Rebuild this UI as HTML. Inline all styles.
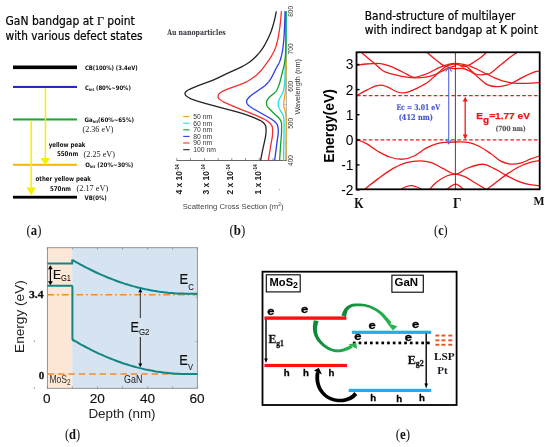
<!DOCTYPE html>
<html><head><meta charset="utf-8"><title>GaN bandgap figure</title>
<style>html,body{margin:0;padding:0;background:#fff;}body{width:550px;height:447px;overflow:hidden;}svg{display:block;}</style>
</head><body>
<svg width="550" height="447" viewBox="0 0 550 447">
<rect width="550" height="447" fill="#fff"/>
<text x="5.5" y="25.3" font-family='"DejaVu Sans Condensed", "DejaVu Sans", sans-serif' font-size="12.40" fill="#000" textLength="129.3" lengthAdjust="spacingAndGlyphs" stroke="#000" stroke-width="0.2">GaN bandgap at <tspan font-family='"Liberation Serif", serif'>Γ</tspan> point</text>
<text x="5.5" y="40.1" font-family='"DejaVu Sans Condensed", "DejaVu Sans", sans-serif' font-size="12.50" fill="#000" textLength="137.0" lengthAdjust="spacingAndGlyphs" stroke="#000" stroke-width="0.2">with various defect states</text>
<rect x="13" y="65.5" width="64" height="3.6" fill="#000"/>
<rect x="13" y="85.9" width="64" height="2.1" fill="#2a2ab8"/>
<rect x="13" y="118.4" width="64" height="2.1" fill="#1fa83a"/>
<rect x="13" y="163.8" width="64" height="2.0" fill="#f2b705"/>
<rect x="13" y="195.8" width="64" height="2.8" fill="#000"/>
<rect x="44.7" y="88" width="1.5" height="70.5" fill="#f5f000"/>
<polygon points="40.4,158 50.2,158 45.4,165.2" fill="#f5f000"/>
<rect x="30.4" y="120.5" width="1.5" height="67.5" fill="#f5f000"/>
<polygon points="26.5,187.5 35.9,187.5 31.2,195.5" fill="#f5f000"/>
<text x="84.9" y="70.0" font-family='"DejaVu Sans", Verdana, sans-serif' font-size="6.20" fill="#111" font-weight="bold" textLength="52.9" lengthAdjust="spacingAndGlyphs">CB(100%) (3.4eV)</text>
<text x="84.9" y="89.6" font-family='"DejaVu Sans", Verdana, sans-serif' font-size="6.20" fill="#111" font-weight="bold" textLength="46.0" lengthAdjust="spacingAndGlyphs">C<tspan font-size="4" dy="1">int</tspan><tspan dy="-1"> (80%~90%)</tspan></text>
<text x="84.5" y="121.7" font-family='"DejaVu Sans", Verdana, sans-serif' font-size="6.20" fill="#111" font-weight="bold" textLength="49.4" lengthAdjust="spacingAndGlyphs">Ga<tspan font-size="4" dy="1">int</tspan><tspan dy="-1">(60%~65%)</tspan></text>
<text x="82.6" y="131.5" font-family='"Liberation Serif", "Times New Roman", serif' font-size="9.00" fill="#222" textLength="30.9" lengthAdjust="spacingAndGlyphs">(2.36 eV)</text>
<text x="48.7" y="147.4" font-family='"DejaVu Sans", Verdana, sans-serif' font-size="6.60" fill="#111" font-weight="bold" textLength="36.8" lengthAdjust="spacingAndGlyphs">yellow peak</text>
<text x="56.9" y="156.3" font-family='"DejaVu Sans", Verdana, sans-serif' font-size="6.60" fill="#111" font-weight="bold" textLength="21.3" lengthAdjust="spacingAndGlyphs">550nm</text>
<text x="83.6" y="156.8" font-family='"Liberation Serif", "Times New Roman", serif' font-size="9.00" fill="#222" textLength="31.4" lengthAdjust="spacingAndGlyphs">(2.25 eV)</text>
<text x="85.2" y="167.3" font-family='"DejaVu Sans", Verdana, sans-serif' font-size="6.20" fill="#111" font-weight="bold" textLength="48.0" lengthAdjust="spacingAndGlyphs">O<tspan font-size="4" dy="1">int</tspan><tspan dy="-1"> (20%~30%)</tspan></text>
<text x="35.5" y="180.5" font-family='"DejaVu Sans", Verdana, sans-serif' font-size="6.60" fill="#111" font-weight="bold" textLength="55.5" lengthAdjust="spacingAndGlyphs">other yellow peak</text>
<text x="50.0" y="190.5" font-family='"DejaVu Sans", Verdana, sans-serif' font-size="6.60" fill="#111" font-weight="bold" textLength="21.0" lengthAdjust="spacingAndGlyphs">570nm</text>
<text x="76.4" y="190.6" font-family='"Liberation Serif", "Times New Roman", serif' font-size="9.00" fill="#222" textLength="31.8" lengthAdjust="spacingAndGlyphs">(2.17 eV)</text>
<text x="84.5" y="199.6" font-family='"DejaVu Sans", Verdana, sans-serif' font-size="6.20" fill="#111" font-weight="bold" textLength="22.3" lengthAdjust="spacingAndGlyphs">VB(0%)</text>
<text x="26.6" y="234.8" font-family='"Liberation Serif", "Times New Roman", serif' font-size="14.00" fill="#111" textLength="14.8" lengthAdjust="spacingAndGlyphs">(<tspan font-weight="bold">a</tspan>)</text>
<text x="167.2" y="34.5" font-family='"DejaVu Serif Condensed", "DejaVu Serif", serif' font-size="7.80" fill="#33343c" font-weight="bold" textLength="58.6" lengthAdjust="spacingAndGlyphs">Au nanoparticles</text>
<line x1="286.4" y1="11" x2="286.4" y2="160.5" stroke="#999" stroke-width="0.8"/>
<line x1="176.5" y1="160.5" x2="287" y2="160.5" stroke="#555" stroke-width="0.9"/>
<line x1="176.8" y1="160.5" x2="176.8" y2="158" stroke="#666" stroke-width="0.7"/>
<line x1="190.5" y1="160.5" x2="190.5" y2="158" stroke="#666" stroke-width="0.7"/>
<line x1="204.5" y1="160.5" x2="204.5" y2="158" stroke="#666" stroke-width="0.7"/>
<line x1="218.2" y1="160.5" x2="218.2" y2="158" stroke="#666" stroke-width="0.7"/>
<line x1="231.8" y1="160.5" x2="231.8" y2="158" stroke="#666" stroke-width="0.7"/>
<line x1="245.5" y1="160.5" x2="245.5" y2="158" stroke="#666" stroke-width="0.7"/>
<line x1="259.2" y1="160.5" x2="259.2" y2="158" stroke="#666" stroke-width="0.7"/>
<line x1="273.0" y1="160.5" x2="273.0" y2="158" stroke="#666" stroke-width="0.7"/>
<line x1="286.6" y1="142.7" x2="284.5" y2="142.7" stroke="#888" stroke-width="0.6"/>
<line x1="286.6" y1="104.4" x2="284.5" y2="104.4" stroke="#888" stroke-width="0.6"/>
<line x1="286.6" y1="67.0" x2="284.5" y2="67.0" stroke="#888" stroke-width="0.6"/>
<line x1="286.6" y1="29.7" x2="284.5" y2="29.7" stroke="#888" stroke-width="0.6"/>
<path d="M286.30,11.30 L286.30,11.80 L286.30,12.30 L286.30,12.80 L286.30,13.30 L286.30,13.80 L286.30,14.30 L286.30,14.80 L286.30,15.30 L286.30,15.80 L286.30,16.30 L286.30,16.80 L286.30,17.30 L286.30,17.80 L286.30,18.30 L286.30,18.80 L286.30,19.30 L286.29,19.80 L286.29,20.30 L286.29,20.80 L286.29,21.30 L286.29,21.80 L286.29,22.30 L286.29,22.80 L286.29,23.30 L286.29,23.80 L286.29,24.30 L286.29,24.80 L286.29,25.30 L286.28,25.80 L286.28,26.30 L286.28,26.80 L286.28,27.30 L286.28,27.80 L286.28,28.30 L286.28,28.80 L286.28,29.30 L286.27,29.80 L286.27,30.30 L286.27,30.80 L286.27,31.30 L286.27,31.80 L286.27,32.30 L286.27,32.80 L286.26,33.30 L286.26,33.80 L286.26,34.30 L286.26,34.80 L286.26,35.30 L286.26,35.80 L286.25,36.30 L286.25,36.80 L286.25,37.30 L286.25,37.80 L286.25,38.30 L286.24,38.80 L286.24,39.30 L286.24,39.80 L286.24,40.30 L286.24,40.80 L286.23,41.30 L286.23,41.80 L286.23,42.30 L286.23,42.80 L286.23,43.30 L286.22,43.80 L286.22,44.30 L286.22,44.80 L286.22,45.30 L286.21,45.80 L286.21,46.30 L286.21,46.80 L286.21,47.30 L286.20,47.80 L286.20,48.30 L286.20,48.80 L286.20,49.30 L286.19,49.80 L286.19,50.30 L286.19,50.80 L286.19,51.30 L286.18,51.80 L286.18,52.30 L286.18,52.80 L286.17,53.30 L286.17,53.80 L286.17,54.30 L286.17,54.80 L286.16,55.30 L286.16,55.80 L286.16,56.30 L286.15,56.80 L286.15,57.30 L286.15,57.80 L286.14,58.30 L286.14,58.80 L286.14,59.30 L286.14,59.80 L286.13,60.30 L286.13,60.80 L286.13,61.30 L286.12,61.80 L286.12,62.30 L286.12,62.80 L286.11,63.30 L286.11,63.80 L286.10,64.30 L286.10,64.80 L286.10,65.30 L286.09,65.80 L286.09,66.30 L286.08,66.80 L286.08,67.30 L286.07,67.80 L286.07,68.30 L286.06,68.80 L286.06,69.30 L286.05,69.80 L286.04,70.30 L286.04,70.80 L286.03,71.30 L286.02,71.80 L286.01,72.30 L286.01,72.80 L286.00,73.30 L285.99,73.80 L285.98,74.30 L285.97,74.80 L285.96,75.30 L285.95,75.80 L285.94,76.30 L285.93,76.80 L285.92,77.30 L285.90,77.80 L285.89,78.30 L285.88,78.80 L285.87,79.30 L285.85,79.80 L285.84,80.30 L285.83,80.80 L285.81,81.30 L285.80,81.80 L285.78,82.30 L285.76,82.80 L285.75,83.30 L285.73,83.80 L285.71,84.30 L285.70,84.80 L285.68,85.30 L285.66,85.80 L285.64,86.30 L285.62,86.80 L285.59,87.30 L285.57,87.80 L285.54,88.30 L285.51,88.80 L285.47,89.30 L285.43,89.80 L285.39,90.30 L285.34,90.80 L285.29,91.30 L285.24,91.80 L285.19,92.30 L285.13,92.80 L285.07,93.30 L285.01,93.80 L284.95,94.30 L284.89,94.80 L284.82,95.30 L284.75,95.80 L284.68,96.30 L284.61,96.80 L284.53,97.30 L284.45,97.80 L284.36,98.30 L284.28,98.80 L284.19,99.30 L284.11,99.80 L284.04,100.30 L283.97,100.80 L283.90,101.30 L283.84,101.80 L283.79,102.30 L283.75,102.80 L283.72,103.30 L283.70,103.80 L283.69,104.30 L283.69,104.80 L283.72,105.30 L283.76,105.80 L283.83,106.30 L283.92,106.80 L284.03,107.30 L284.15,107.80 L284.29,108.30 L284.43,108.80 L284.57,109.30 L284.71,109.80 L284.85,110.30 L284.99,110.80 L285.12,111.30 L285.25,111.80 L285.37,112.30 L285.48,112.80 L285.59,113.30 L285.68,113.80 L285.76,114.30 L285.82,114.80 L285.87,115.30 L285.92,115.80 L285.95,116.30 L285.98,116.80 L286.01,117.30 L286.03,117.80 L286.06,118.30 L286.07,118.80 L286.09,119.30 L286.11,119.80 L286.12,120.30 L286.14,120.80 L286.15,121.30 L286.16,121.80 L286.17,122.30 L286.18,122.80 L286.18,123.30 L286.19,123.80 L286.19,124.30 L286.19,124.80 L286.20,125.30 L286.20,125.80 L286.20,126.30 L286.20,126.80 L286.19,127.30 L286.19,127.80 L286.19,128.30 L286.19,128.80 L286.18,129.30 L286.18,129.80 L286.18,130.30 L286.17,130.80 L286.17,131.30 L286.16,131.80 L286.16,132.30 L286.15,132.80 L286.15,133.30 L286.14,133.80 L286.14,134.30 L286.13,134.80 L286.12,135.30 L286.12,135.80 L286.11,136.30 L286.11,136.80 L286.10,137.30 L286.09,137.80 L286.09,138.30 L286.08,138.80 L286.07,139.30 L286.07,139.80 L286.06,140.30 L286.05,140.80 L286.05,141.30 L286.04,141.80 L286.03,142.30 L286.03,142.80 L286.02,143.30 L286.01,143.80 L286.01,144.30 L286.00,144.80 L286.00,145.30 L285.99,145.80 L285.98,146.30 L285.98,146.80 L285.97,147.30 L285.97,147.80 L285.96,148.30 L285.96,148.80 L285.95,149.30 L285.94,149.80 L285.94,150.30 L285.93,150.80 L285.92,151.30 L285.92,151.80 L285.91,152.30 L285.90,152.80 L285.90,153.30 L285.89,153.80 L285.88,154.30 L285.88,154.80 L285.87,155.30 L285.86,155.80 L285.86,156.30 L285.85,156.80 L285.84,157.30 L285.84,157.80 L285.83,158.30 L285.82,158.80 L285.82,159.30 L285.81,159.80 L285.81,160.30 L285.80,160.50" fill="none" stroke="#f5a020" stroke-width="1.3" stroke-linejoin="round"/>
<path d="M286.20,11.30 L286.20,11.80 L286.20,12.30 L286.20,12.80 L286.20,13.30 L286.20,13.80 L286.20,14.30 L286.20,14.80 L286.20,15.30 L286.20,15.80 L286.20,16.30 L286.20,16.80 L286.20,17.30 L286.19,17.80 L286.19,18.30 L286.19,18.80 L286.19,19.30 L286.19,19.80 L286.19,20.30 L286.19,20.80 L286.19,21.30 L286.19,21.80 L286.18,22.30 L286.18,22.80 L286.18,23.30 L286.18,23.80 L286.18,24.30 L286.18,24.80 L286.17,25.30 L286.17,25.80 L286.17,26.30 L286.17,26.80 L286.17,27.30 L286.16,27.80 L286.16,28.30 L286.16,28.80 L286.16,29.30 L286.15,29.80 L286.15,30.30 L286.15,30.80 L286.15,31.30 L286.14,31.80 L286.14,32.30 L286.14,32.80 L286.14,33.30 L286.13,33.80 L286.13,34.30 L286.13,34.80 L286.12,35.30 L286.12,35.80 L286.12,36.30 L286.11,36.80 L286.11,37.30 L286.11,37.80 L286.10,38.30 L286.10,38.80 L286.10,39.30 L286.09,39.80 L286.09,40.30 L286.08,40.80 L286.08,41.30 L286.08,41.80 L286.07,42.30 L286.07,42.80 L286.06,43.30 L286.06,43.80 L286.06,44.30 L286.05,44.80 L286.05,45.30 L286.04,45.80 L286.04,46.30 L286.03,46.80 L286.03,47.30 L286.02,47.80 L286.02,48.30 L286.01,48.80 L286.00,49.30 L286.00,49.80 L285.99,50.30 L285.98,50.80 L285.97,51.30 L285.96,51.80 L285.94,52.30 L285.93,52.80 L285.91,53.30 L285.89,53.80 L285.87,54.30 L285.84,54.80 L285.82,55.30 L285.80,55.80 L285.77,56.30 L285.74,56.80 L285.72,57.30 L285.69,57.80 L285.66,58.30 L285.63,58.80 L285.60,59.30 L285.57,59.80 L285.54,60.30 L285.52,60.80 L285.49,61.30 L285.46,61.80 L285.43,62.30 L285.41,62.80 L285.38,63.30 L285.36,63.80 L285.34,64.30 L285.31,64.80 L285.29,65.30 L285.27,65.80 L285.25,66.30 L285.24,66.80 L285.22,67.30 L285.20,67.80 L285.19,68.30 L285.17,68.80 L285.16,69.30 L285.14,69.80 L285.13,70.30 L285.12,70.80 L285.10,71.30 L285.09,71.80 L285.07,72.30 L285.06,72.80 L285.05,73.30 L285.03,73.80 L285.02,74.30 L285.00,74.80 L284.99,75.30 L284.97,75.80 L284.95,76.30 L284.93,76.80 L284.91,77.30 L284.90,77.80 L284.87,78.30 L284.85,78.80 L284.83,79.30 L284.80,79.80 L284.78,80.30 L284.75,80.80 L284.72,81.30 L284.68,81.80 L284.65,82.30 L284.61,82.80 L284.56,83.30 L284.51,83.80 L284.46,84.30 L284.40,84.80 L284.34,85.30 L284.27,85.80 L284.19,86.30 L284.11,86.80 L284.03,87.30 L283.94,87.80 L283.85,88.30 L283.75,88.80 L283.65,89.30 L283.54,89.80 L283.43,90.30 L283.30,90.80 L283.17,91.30 L283.02,91.80 L282.85,92.30 L282.66,92.80 L282.46,93.30 L282.23,93.80 L281.99,94.30 L281.74,94.80 L281.47,95.30 L281.20,95.80 L280.93,96.30 L280.65,96.80 L280.39,97.30 L280.12,97.80 L279.87,98.30 L279.62,98.80 L279.38,99.30 L279.14,99.80 L278.92,100.30 L278.72,100.80 L278.55,101.30 L278.40,101.80 L278.29,102.30 L278.21,102.80 L278.17,103.30 L278.16,103.80 L278.19,104.30 L278.24,104.80 L278.31,105.30 L278.41,105.80 L278.52,106.30 L278.66,106.80 L278.83,107.30 L279.02,107.80 L279.24,108.30 L279.49,108.80 L279.75,109.30 L280.04,109.80 L280.34,110.30 L280.65,110.80 L280.96,111.30 L281.27,111.80 L281.57,112.30 L281.87,112.80 L282.15,113.30 L282.41,113.80 L282.66,114.30 L282.87,114.80 L283.06,115.30 L283.23,115.80 L283.38,116.30 L283.50,116.80 L283.61,117.30 L283.71,117.80 L283.78,118.30 L283.85,118.80 L283.90,119.30 L283.94,119.80 L283.98,120.30 L284.00,120.80 L284.02,121.30 L284.03,121.80 L284.04,122.30 L284.05,122.80 L284.06,123.30 L284.07,123.80 L284.08,124.30 L284.08,124.80 L284.09,125.30 L284.09,125.80 L284.09,126.30 L284.09,126.80 L284.10,127.30 L284.10,127.80 L284.10,128.30 L284.09,128.80 L284.09,129.30 L284.09,129.80 L284.09,130.30 L284.08,130.80 L284.07,131.30 L284.07,131.80 L284.06,132.30 L284.05,132.80 L284.05,133.30 L284.04,133.80 L284.03,134.30 L284.02,134.80 L284.01,135.30 L284.00,135.80 L283.99,136.30 L283.97,136.80 L283.96,137.30 L283.95,137.80 L283.94,138.30 L283.93,138.80 L283.92,139.30 L283.90,139.80 L283.89,140.30 L283.88,140.80 L283.87,141.30 L283.86,141.80 L283.85,142.30 L283.84,142.80 L283.83,143.30 L283.82,143.80 L283.81,144.30 L283.80,144.80 L283.80,145.30 L283.79,145.80 L283.78,146.30 L283.77,146.80 L283.77,147.30 L283.76,147.80 L283.75,148.30 L283.75,148.80 L283.74,149.30 L283.73,149.80 L283.72,150.30 L283.72,150.80 L283.71,151.30 L283.70,151.80 L283.70,152.30 L283.69,152.80 L283.69,153.30 L283.68,153.80 L283.67,154.30 L283.67,154.80 L283.66,155.30 L283.65,155.80 L283.65,156.30 L283.64,156.80 L283.64,157.30 L283.63,157.80 L283.62,158.30 L283.62,158.80 L283.61,159.30 L283.61,159.80 L283.60,160.30 L283.60,160.50" fill="none" stroke="#20e0e0" stroke-width="1.3" stroke-linejoin="round"/>
<path d="M285.90,11.30 L285.90,11.80 L285.90,12.30 L285.90,12.80 L285.90,13.30 L285.90,13.80 L285.90,14.30 L285.90,14.80 L285.90,15.30 L285.90,15.80 L285.90,16.30 L285.90,16.80 L285.90,17.30 L285.90,17.80 L285.89,18.30 L285.89,18.80 L285.89,19.30 L285.89,19.80 L285.89,20.30 L285.89,20.80 L285.89,21.30 L285.89,21.80 L285.89,22.30 L285.89,22.80 L285.88,23.30 L285.88,23.80 L285.88,24.30 L285.88,24.80 L285.88,25.30 L285.88,25.80 L285.87,26.30 L285.87,26.80 L285.87,27.30 L285.87,27.80 L285.87,28.30 L285.86,28.80 L285.86,29.30 L285.86,29.80 L285.86,30.30 L285.86,30.80 L285.85,31.30 L285.85,31.80 L285.85,32.30 L285.85,32.80 L285.84,33.30 L285.84,33.80 L285.84,34.30 L285.83,34.80 L285.83,35.30 L285.83,35.80 L285.82,36.30 L285.82,36.80 L285.82,37.30 L285.81,37.80 L285.81,38.30 L285.81,38.80 L285.80,39.30 L285.80,39.80 L285.80,40.30 L285.79,40.80 L285.79,41.30 L285.78,41.80 L285.78,42.30 L285.77,42.80 L285.77,43.30 L285.77,43.80 L285.76,44.30 L285.76,44.80 L285.75,45.30 L285.75,45.80 L285.74,46.30 L285.74,46.80 L285.73,47.30 L285.73,47.80 L285.72,48.30 L285.71,48.80 L285.71,49.30 L285.70,49.80 L285.69,50.30 L285.68,50.80 L285.66,51.30 L285.65,51.80 L285.62,52.30 L285.60,52.80 L285.57,53.30 L285.54,53.80 L285.50,54.30 L285.46,54.80 L285.42,55.30 L285.38,55.80 L285.33,56.30 L285.28,56.80 L285.23,57.30 L285.17,57.80 L285.11,58.30 L285.05,58.80 L284.99,59.30 L284.93,59.80 L284.86,60.30 L284.80,60.80 L284.73,61.30 L284.66,61.80 L284.59,62.30 L284.52,62.80 L284.44,63.30 L284.36,63.80 L284.28,64.30 L284.19,64.80 L284.09,65.30 L283.99,65.80 L283.88,66.30 L283.77,66.80 L283.65,67.30 L283.53,67.80 L283.40,68.30 L283.27,68.80 L283.14,69.30 L283.00,69.80 L282.87,70.30 L282.73,70.80 L282.59,71.30 L282.46,71.80 L282.32,72.30 L282.19,72.80 L282.07,73.30 L281.94,73.80 L281.82,74.30 L281.70,74.80 L281.58,75.30 L281.46,75.80 L281.35,76.30 L281.24,76.80 L281.12,77.30 L281.01,77.80 L280.89,78.30 L280.78,78.80 L280.66,79.30 L280.53,79.80 L280.41,80.30 L280.28,80.80 L280.14,81.30 L280.00,81.80 L279.86,82.30 L279.71,82.80 L279.55,83.30 L279.40,83.80 L279.23,84.30 L279.06,84.80 L278.89,85.30 L278.71,85.80 L278.52,86.30 L278.32,86.80 L278.12,87.30 L277.90,87.80 L277.68,88.30 L277.44,88.80 L277.18,89.30 L276.91,89.80 L276.62,90.30 L276.30,90.80 L275.95,91.30 L275.55,91.80 L275.11,92.30 L274.62,92.80 L274.08,93.30 L273.50,93.80 L272.89,94.30 L272.27,94.80 L271.65,95.30 L271.04,95.80 L270.45,96.30 L269.90,96.80 L269.38,97.30 L268.90,97.80 L268.45,98.30 L268.05,98.80 L267.68,99.30 L267.36,99.80 L267.08,100.30 L266.85,100.80 L266.68,101.30 L266.57,101.80 L266.50,102.30 L266.47,102.80 L266.48,103.30 L266.53,103.80 L266.61,104.30 L266.73,104.80 L266.88,105.30 L267.08,105.80 L267.33,106.30 L267.63,106.80 L267.99,107.30 L268.39,107.80 L268.83,108.30 L269.30,108.80 L269.78,109.30 L270.27,109.80 L270.76,110.30 L271.26,110.80 L271.76,111.30 L272.26,111.80 L272.77,112.30 L273.28,112.80 L273.81,113.30 L274.35,113.80 L274.90,114.30 L275.46,114.80 L276.03,115.30 L276.60,115.80 L277.16,116.30 L277.70,116.80 L278.22,117.30 L278.70,117.80 L279.14,118.30 L279.54,118.80 L279.91,119.30 L280.23,119.80 L280.52,120.30 L280.78,120.80 L281.00,121.30 L281.17,121.80 L281.31,122.30 L281.42,122.80 L281.49,123.30 L281.54,123.80 L281.57,124.30 L281.58,124.80 L281.59,125.30 L281.60,125.80 L281.60,126.30 L281.60,126.80 L281.60,127.30 L281.60,127.80 L281.60,128.30 L281.60,128.80 L281.60,129.30 L281.59,129.80 L281.59,130.30 L281.58,130.80 L281.57,131.30 L281.56,131.80 L281.54,132.30 L281.52,132.80 L281.50,133.30 L281.47,133.80 L281.45,134.30 L281.42,134.80 L281.38,135.30 L281.35,135.80 L281.31,136.30 L281.27,136.80 L281.23,137.30 L281.19,137.80 L281.15,138.30 L281.11,138.80 L281.07,139.30 L281.02,139.80 L280.98,140.30 L280.94,140.80 L280.89,141.30 L280.85,141.80 L280.81,142.30 L280.77,142.80 L280.73,143.30 L280.69,143.80 L280.65,144.30 L280.62,144.80 L280.58,145.30 L280.55,145.80 L280.52,146.30 L280.48,146.80 L280.45,147.30 L280.42,147.80 L280.38,148.30 L280.35,148.80 L280.32,149.30 L280.29,149.80 L280.25,150.30 L280.22,150.80 L280.19,151.30 L280.16,151.80 L280.13,152.30 L280.09,152.80 L280.06,153.30 L280.03,153.80 L280.00,154.30 L279.96,154.80 L279.93,155.30 L279.90,155.80 L279.87,156.30 L279.84,156.80 L279.80,157.30 L279.77,157.80 L279.74,158.30 L279.71,158.80 L279.68,159.30 L279.65,159.80 L279.63,160.30 L279.60,160.50" fill="none" stroke="#10a030" stroke-width="1.3" stroke-linejoin="round"/>
<path d="M285.00,11.30 L284.99,11.80 L284.99,12.30 L284.98,12.80 L284.98,13.30 L284.97,13.80 L284.96,14.30 L284.95,14.80 L284.94,15.30 L284.93,15.80 L284.92,16.30 L284.91,16.80 L284.89,17.30 L284.88,17.80 L284.87,18.30 L284.85,18.80 L284.84,19.30 L284.82,19.80 L284.80,20.30 L284.79,20.80 L284.77,21.30 L284.75,21.80 L284.73,22.30 L284.71,22.80 L284.69,23.30 L284.67,23.80 L284.65,24.30 L284.63,24.80 L284.61,25.30 L284.59,25.80 L284.57,26.30 L284.55,26.80 L284.53,27.30 L284.50,27.80 L284.48,28.30 L284.46,28.80 L284.44,29.30 L284.41,29.80 L284.39,30.30 L284.36,30.80 L284.34,31.30 L284.31,31.80 L284.29,32.30 L284.26,32.80 L284.23,33.30 L284.20,33.80 L284.17,34.30 L284.14,34.80 L284.11,35.30 L284.08,35.80 L284.05,36.30 L284.01,36.80 L283.98,37.30 L283.94,37.80 L283.90,38.30 L283.86,38.80 L283.82,39.30 L283.78,39.80 L283.74,40.30 L283.70,40.80 L283.65,41.30 L283.61,41.80 L283.56,42.30 L283.51,42.80 L283.47,43.30 L283.42,43.80 L283.36,44.30 L283.31,44.80 L283.26,45.30 L283.20,45.80 L283.15,46.30 L283.09,46.80 L283.03,47.30 L282.96,47.80 L282.90,48.30 L282.83,48.80 L282.75,49.30 L282.68,49.80 L282.60,50.30 L282.51,50.80 L282.43,51.30 L282.34,51.80 L282.24,52.30 L282.14,52.80 L282.04,53.30 L281.93,53.80 L281.82,54.30 L281.70,54.80 L281.58,55.30 L281.46,55.80 L281.33,56.30 L281.20,56.80 L281.07,57.30 L280.93,57.80 L280.79,58.30 L280.64,58.80 L280.49,59.30 L280.33,59.80 L280.17,60.30 L279.99,60.80 L279.81,61.30 L279.61,61.80 L279.40,62.30 L279.18,62.80 L278.93,63.30 L278.68,63.80 L278.41,64.30 L278.13,64.80 L277.85,65.30 L277.56,65.80 L277.28,66.30 L277.00,66.80 L276.72,67.30 L276.45,67.80 L276.18,68.30 L275.92,68.80 L275.67,69.30 L275.42,69.80 L275.17,70.30 L274.92,70.80 L274.68,71.30 L274.44,71.80 L274.19,72.30 L273.94,72.80 L273.70,73.30 L273.45,73.80 L273.20,74.30 L272.95,74.80 L272.69,75.30 L272.43,75.80 L272.17,76.30 L271.90,76.80 L271.62,77.30 L271.33,77.80 L271.03,78.30 L270.72,78.80 L270.40,79.30 L270.06,79.80 L269.71,80.30 L269.35,80.80 L268.98,81.30 L268.59,81.80 L268.18,82.30 L267.76,82.80 L267.32,83.30 L266.86,83.80 L266.38,84.30 L265.86,84.80 L265.32,85.30 L264.74,85.80 L264.13,86.30 L263.49,86.80 L262.82,87.30 L262.13,87.80 L261.41,88.30 L260.69,88.80 L259.96,89.30 L259.22,89.80 L258.49,90.30 L257.76,90.80 L257.02,91.30 L256.29,91.80 L255.56,92.30 L254.83,92.80 L254.11,93.30 L253.40,93.80 L252.71,94.30 L252.04,94.80 L251.40,95.30 L250.78,95.80 L250.18,96.30 L249.61,96.80 L249.07,97.30 L248.56,97.80 L248.09,98.30 L247.67,98.80 L247.31,99.30 L247.02,99.80 L246.80,100.30 L246.65,100.80 L246.58,101.30 L246.57,101.80 L246.63,102.30 L246.75,102.80 L246.94,103.30 L247.19,103.80 L247.53,104.30 L247.95,104.80 L248.44,105.30 L249.00,105.80 L249.63,106.30 L250.30,106.80 L251.02,107.30 L251.77,107.80 L252.56,108.30 L253.37,108.80 L254.21,109.30 L255.07,109.80 L255.94,110.30 L256.83,110.80 L257.72,111.30 L258.61,111.80 L259.50,112.30 L260.39,112.80 L261.28,113.30 L262.16,113.80 L263.04,114.30 L263.91,114.80 L264.79,115.30 L265.67,115.80 L266.55,116.30 L267.43,116.80 L268.30,117.30 L269.16,117.80 L270.00,118.30 L270.82,118.80 L271.60,119.30 L272.34,119.80 L273.04,120.30 L273.70,120.80 L274.32,121.30 L274.89,121.80 L275.42,122.30 L275.90,122.80 L276.33,123.30 L276.70,123.80 L277.01,124.30 L277.27,124.80 L277.48,125.30 L277.64,125.80 L277.78,126.30 L277.88,126.80 L277.97,127.30 L278.04,127.80 L278.10,128.30 L278.15,128.80 L278.19,129.30 L278.22,129.80 L278.24,130.30 L278.25,130.80 L278.25,131.30 L278.25,131.80 L278.23,132.30 L278.20,132.80 L278.17,133.30 L278.13,133.80 L278.08,134.30 L278.02,134.80 L277.97,135.30 L277.90,135.80 L277.83,136.30 L277.76,136.80 L277.69,137.30 L277.62,137.80 L277.54,138.30 L277.47,138.80 L277.39,139.30 L277.32,139.80 L277.24,140.30 L277.17,140.80 L277.10,141.30 L277.03,141.80 L276.97,142.30 L276.90,142.80 L276.84,143.30 L276.78,143.80 L276.71,144.30 L276.65,144.80 L276.59,145.30 L276.53,145.80 L276.46,146.30 L276.40,146.80 L276.34,147.30 L276.27,147.80 L276.21,148.30 L276.15,148.80 L276.08,149.30 L276.02,149.80 L275.95,150.30 L275.89,150.80 L275.82,151.30 L275.76,151.80 L275.69,152.30 L275.63,152.80 L275.56,153.30 L275.50,153.80 L275.43,154.30 L275.37,154.80 L275.30,155.30 L275.23,155.80 L275.17,156.30 L275.10,156.80 L275.03,157.30 L274.97,157.80 L274.90,158.30 L274.84,158.80 L274.78,159.30 L274.72,159.80 L274.66,160.30 L274.60,160.50" fill="none" stroke="#2a3cf0" stroke-width="1.3" stroke-linejoin="round"/>
<path d="M281.40,11.30 L281.37,11.80 L281.33,12.30 L281.29,12.80 L281.26,13.30 L281.22,13.80 L281.18,14.30 L281.14,14.80 L281.10,15.30 L281.06,15.80 L281.01,16.30 L280.97,16.80 L280.92,17.30 L280.88,17.80 L280.83,18.30 L280.78,18.80 L280.73,19.30 L280.68,19.80 L280.63,20.30 L280.58,20.80 L280.53,21.30 L280.47,21.80 L280.42,22.30 L280.36,22.80 L280.31,23.30 L280.25,23.80 L280.19,24.30 L280.13,24.80 L280.07,25.30 L280.01,25.80 L279.95,26.30 L279.88,26.80 L279.82,27.30 L279.75,27.80 L279.68,28.30 L279.61,28.80 L279.54,29.30 L279.47,29.80 L279.39,30.30 L279.32,30.80 L279.24,31.30 L279.16,31.80 L279.08,32.30 L279.00,32.80 L278.92,33.30 L278.83,33.80 L278.75,34.30 L278.66,34.80 L278.57,35.30 L278.48,35.80 L278.39,36.30 L278.29,36.80 L278.20,37.30 L278.10,37.80 L278.00,38.30 L277.90,38.80 L277.79,39.30 L277.69,39.80 L277.58,40.30 L277.46,40.80 L277.35,41.30 L277.23,41.80 L277.11,42.30 L276.98,42.80 L276.86,43.30 L276.72,43.80 L276.59,44.30 L276.45,44.80 L276.30,45.30 L276.15,45.80 L276.00,46.30 L275.83,46.80 L275.67,47.30 L275.49,47.80 L275.31,48.30 L275.12,48.80 L274.91,49.30 L274.70,49.80 L274.48,50.30 L274.25,50.80 L274.02,51.30 L273.77,51.80 L273.52,52.30 L273.26,52.80 L272.99,53.30 L272.72,53.80 L272.44,54.30 L272.16,54.80 L271.88,55.30 L271.59,55.80 L271.29,56.30 L270.99,56.80 L270.68,57.30 L270.37,57.80 L270.05,58.30 L269.72,58.80 L269.38,59.30 L269.03,59.80 L268.68,60.30 L268.32,60.80 L267.96,61.30 L267.59,61.80 L267.22,62.30 L266.85,62.80 L266.47,63.30 L266.10,63.80 L265.73,64.30 L265.36,64.80 L265.00,65.30 L264.63,65.80 L264.27,66.30 L263.91,66.80 L263.55,67.30 L263.18,67.80 L262.81,68.30 L262.43,68.80 L262.05,69.30 L261.65,69.80 L261.24,70.30 L260.82,70.80 L260.38,71.30 L259.93,71.80 L259.45,72.30 L258.96,72.80 L258.45,73.30 L257.93,73.80 L257.38,74.30 L256.82,74.80 L256.24,75.30 L255.63,75.80 L255.02,76.30 L254.38,76.80 L253.72,77.30 L253.04,77.80 L252.33,78.30 L251.60,78.80 L250.85,79.30 L250.06,79.80 L249.23,80.30 L248.36,80.80 L247.44,81.30 L246.47,81.80 L245.43,82.30 L244.33,82.80 L243.17,83.30 L241.93,83.80 L240.64,84.30 L239.31,84.80 L237.93,85.30 L236.52,85.80 L235.10,86.30 L233.67,86.80 L232.24,87.30 L230.84,87.80 L229.46,88.30 L228.13,88.80 L226.86,89.30 L225.67,89.80 L224.54,90.30 L223.51,90.80 L222.55,91.30 L221.69,91.80 L220.91,92.30 L220.22,92.80 L219.63,93.30 L219.14,93.80 L218.74,94.30 L218.45,94.80 L218.24,95.30 L218.13,95.80 L218.08,96.30 L218.11,96.80 L218.22,97.30 L218.41,97.80 L218.70,98.30 L219.10,98.80 L219.60,99.30 L220.21,99.80 L220.91,100.30 L221.71,100.80 L222.59,101.30 L223.54,101.80 L224.56,102.30 L225.62,102.80 L226.73,103.30 L227.86,103.80 L229.00,104.30 L230.16,104.80 L231.31,105.30 L232.47,105.80 L233.63,106.30 L234.80,106.80 L235.98,107.30 L237.17,107.80 L238.38,108.30 L239.61,108.80 L240.86,109.30 L242.13,109.80 L243.41,110.30 L244.70,110.80 L246.00,111.30 L247.29,111.80 L248.58,112.30 L249.85,112.80 L251.11,113.30 L252.36,113.80 L253.58,114.30 L254.79,114.80 L255.97,115.30 L257.13,115.80 L258.26,116.30 L259.36,116.80 L260.43,117.30 L261.47,117.80 L262.47,118.30 L263.45,118.80 L264.39,119.30 L265.29,119.80 L266.14,120.30 L266.94,120.80 L267.69,121.30 L268.37,121.80 L268.99,122.30 L269.55,122.80 L270.05,123.30 L270.51,123.80 L270.92,124.30 L271.28,124.80 L271.59,125.30 L271.86,125.80 L272.08,126.30 L272.25,126.80 L272.38,127.30 L272.47,127.80 L272.53,128.30 L272.56,128.80 L272.58,129.30 L272.59,129.80 L272.60,130.30 L272.60,130.80 L272.60,131.30 L272.59,131.80 L272.59,132.30 L272.58,132.80 L272.57,133.30 L272.55,133.80 L272.52,134.30 L272.49,134.80 L272.45,135.30 L272.40,135.80 L272.34,136.30 L272.27,136.80 L272.20,137.30 L272.13,137.80 L272.04,138.30 L271.96,138.80 L271.87,139.30 L271.78,139.80 L271.68,140.30 L271.58,140.80 L271.49,141.30 L271.39,141.80 L271.30,142.30 L271.20,142.80 L271.11,143.30 L271.02,143.80 L270.93,144.30 L270.84,144.80 L270.76,145.30 L270.68,145.80 L270.59,146.30 L270.51,146.80 L270.43,147.30 L270.35,147.80 L270.27,148.30 L270.19,148.80 L270.11,149.30 L270.03,149.80 L269.94,150.30 L269.86,150.80 L269.78,151.30 L269.70,151.80 L269.61,152.30 L269.53,152.80 L269.44,153.30 L269.36,153.80 L269.28,154.30 L269.19,154.80 L269.11,155.30 L269.02,155.80 L268.93,156.30 L268.85,156.80 L268.76,157.30 L268.68,157.80 L268.59,158.30 L268.51,158.80 L268.43,159.30 L268.35,159.80 L268.27,160.30 L268.20,160.50" fill="none" stroke="#f03030" stroke-width="1.3" stroke-linejoin="round"/>
<path d="M276.30,11.30 L276.21,11.80 L276.11,12.30 L276.02,12.80 L275.92,13.30 L275.82,13.80 L275.73,14.30 L275.62,14.80 L275.52,15.30 L275.42,15.80 L275.31,16.30 L275.20,16.80 L275.09,17.30 L274.98,17.80 L274.86,18.30 L274.75,18.80 L274.63,19.30 L274.51,19.80 L274.39,20.30 L274.27,20.80 L274.14,21.30 L274.02,21.80 L273.89,22.30 L273.76,22.80 L273.63,23.30 L273.50,23.80 L273.36,24.30 L273.22,24.80 L273.08,25.30 L272.94,25.80 L272.79,26.30 L272.64,26.80 L272.49,27.30 L272.34,27.80 L272.18,28.30 L272.02,28.80 L271.85,29.30 L271.68,29.80 L271.51,30.30 L271.33,30.80 L271.15,31.30 L270.97,31.80 L270.77,32.30 L270.58,32.80 L270.38,33.30 L270.17,33.80 L269.97,34.30 L269.75,34.80 L269.54,35.30 L269.32,35.80 L269.09,36.30 L268.87,36.80 L268.64,37.30 L268.40,37.80 L268.17,38.30 L267.93,38.80 L267.68,39.30 L267.44,39.80 L267.19,40.30 L266.94,40.80 L266.68,41.30 L266.42,41.80 L266.15,42.30 L265.88,42.80 L265.61,43.30 L265.33,43.80 L265.05,44.30 L264.76,44.80 L264.46,45.30 L264.16,45.80 L263.86,46.30 L263.55,46.80 L263.23,47.30 L262.90,47.80 L262.57,48.30 L262.23,48.80 L261.89,49.30 L261.54,49.80 L261.18,50.30 L260.81,50.80 L260.43,51.30 L260.04,51.80 L259.65,52.30 L259.24,52.80 L258.83,53.30 L258.40,53.80 L257.97,54.30 L257.53,54.80 L257.07,55.30 L256.61,55.80 L256.13,56.30 L255.65,56.80 L255.15,57.30 L254.64,57.80 L254.11,58.30 L253.57,58.80 L253.02,59.30 L252.45,59.80 L251.86,60.30 L251.25,60.80 L250.62,61.30 L249.96,61.80 L249.28,62.30 L248.57,62.80 L247.82,63.30 L247.04,63.80 L246.22,64.30 L245.36,64.80 L244.46,65.30 L243.52,65.80 L242.56,66.30 L241.56,66.80 L240.54,67.30 L239.49,67.80 L238.43,68.30 L237.35,68.80 L236.25,69.30 L235.13,69.80 L234.01,70.30 L232.88,70.80 L231.75,71.30 L230.62,71.80 L229.51,72.30 L228.41,72.80 L227.32,73.30 L226.26,73.80 L225.21,74.30 L224.18,74.80 L223.17,75.30 L222.16,75.80 L221.15,76.30 L220.14,76.80 L219.12,77.30 L218.08,77.80 L217.01,78.30 L215.91,78.80 L214.77,79.30 L213.59,79.80 L212.37,80.30 L211.10,80.80 L209.79,81.30 L208.44,81.80 L207.07,82.30 L205.69,82.80 L204.31,83.30 L202.94,83.80 L201.58,84.30 L200.24,84.80 L198.94,85.30 L197.65,85.80 L196.40,86.30 L195.17,86.80 L193.98,87.30 L192.81,87.80 L191.69,88.30 L190.61,88.80 L189.59,89.30 L188.65,89.80 L187.79,90.30 L187.04,90.80 L186.39,91.30 L185.87,91.80 L185.47,92.30 L185.20,92.80 L185.05,93.30 L185.03,93.80 L185.12,94.30 L185.35,94.80 L185.69,95.30 L186.15,95.80 L186.73,96.30 L187.41,96.80 L188.21,97.30 L189.11,97.80 L190.12,98.30 L191.24,98.80 L192.46,99.30 L193.79,99.80 L195.22,100.30 L196.73,100.80 L198.31,101.30 L199.95,101.80 L201.65,102.30 L203.39,102.80 L205.16,103.30 L206.96,103.80 L208.79,104.30 L210.63,104.80 L212.48,105.30 L214.33,105.80 L216.19,106.30 L218.05,106.80 L219.92,107.30 L221.79,107.80 L223.67,108.30 L225.57,108.80 L227.47,109.30 L229.38,109.80 L231.28,110.30 L233.17,110.80 L235.03,111.30 L236.85,111.80 L238.61,112.30 L240.32,112.80 L241.96,113.30 L243.53,113.80 L245.05,114.30 L246.52,114.80 L247.94,115.30 L249.32,115.80 L250.65,116.30 L251.95,116.80 L253.21,117.30 L254.42,117.80 L255.59,118.30 L256.71,118.80 L257.79,119.30 L258.80,119.80 L259.76,120.30 L260.65,120.80 L261.46,121.30 L262.20,121.80 L262.86,122.30 L263.44,122.80 L263.95,123.30 L264.39,123.80 L264.77,124.30 L265.10,124.80 L265.37,125.30 L265.59,125.80 L265.76,126.30 L265.88,126.80 L265.97,127.30 L266.02,127.80 L266.05,128.30 L266.07,128.80 L266.07,129.30 L266.07,129.80 L266.06,130.30 L266.05,130.80 L266.04,131.30 L266.02,131.80 L266.00,132.30 L265.98,132.80 L265.95,133.30 L265.91,133.80 L265.86,134.30 L265.80,134.80 L265.73,135.30 L265.66,135.80 L265.57,136.30 L265.48,136.80 L265.38,137.30 L265.28,137.80 L265.18,138.30 L265.07,138.80 L264.96,139.30 L264.86,139.80 L264.75,140.30 L264.65,140.80 L264.54,141.30 L264.44,141.80 L264.33,142.30 L264.22,142.80 L264.11,143.30 L264.01,143.80 L263.89,144.30 L263.78,144.80 L263.67,145.30 L263.56,145.80 L263.44,146.30 L263.33,146.80 L263.21,147.30 L263.10,147.80 L262.99,148.30 L262.88,148.80 L262.77,149.30 L262.66,149.80 L262.55,150.30 L262.45,150.80 L262.35,151.30 L262.24,151.80 L262.14,152.30 L262.04,152.80 L261.94,153.30 L261.84,153.80 L261.75,154.30 L261.65,154.80 L261.55,155.30 L261.46,155.80 L261.37,156.30 L261.27,156.80 L261.18,157.30 L261.09,157.80 L261.00,158.30 L260.91,158.80 L260.83,159.30 L260.75,159.80 L260.68,160.30 L260.60,160.50" fill="none" stroke="#222" stroke-width="1.3" stroke-linejoin="round"/>
<text x="293.2" y="11.3" font-family='"Liberation Sans", Arial, sans-serif' font-size="6.60" fill="#333" text-anchor="middle" transform="rotate(-90 293.2 11.3)">800</text>
<text x="293.2" y="48.9" font-family='"Liberation Sans", Arial, sans-serif' font-size="6.60" fill="#333" text-anchor="middle" transform="rotate(-90 293.2 48.9)">700</text>
<text x="293.2" y="86.2" font-family='"Liberation Sans", Arial, sans-serif' font-size="6.60" fill="#333" text-anchor="middle" transform="rotate(-90 293.2 86.2)">600</text>
<text x="293.2" y="123.3" font-family='"Liberation Sans", Arial, sans-serif' font-size="6.60" fill="#333" text-anchor="middle" transform="rotate(-90 293.2 123.3)">500</text>
<text x="293.2" y="160.5" font-family='"Liberation Sans", Arial, sans-serif' font-size="6.60" fill="#333" text-anchor="middle" transform="rotate(-90 293.2 160.5)">400</text>
<text x="300.4" y="86.8" font-family='"Liberation Sans", Arial, sans-serif' font-size="8.00" fill="#333" textLength="55.5" lengthAdjust="spacingAndGlyphs" text-anchor="middle" transform="rotate(-90 300.4 86.8)">Wavelength (nm)</text>
<line x1="183.2" y1="116.6" x2="189.6" y2="116.6" stroke="#f5a020" stroke-width="1.1"/>
<text x="193.3" y="119.0" font-family='"Liberation Sans", Arial, sans-serif' font-size="6.80" fill="#333">50 nm</text>
<line x1="183.2" y1="123.2" x2="189.6" y2="123.2" stroke="#20e0e0" stroke-width="1.1"/>
<text x="193.3" y="125.6" font-family='"Liberation Sans", Arial, sans-serif' font-size="6.80" fill="#333">60 nm</text>
<line x1="183.2" y1="129.8" x2="189.6" y2="129.8" stroke="#10a030" stroke-width="1.1"/>
<text x="193.3" y="132.2" font-family='"Liberation Sans", Arial, sans-serif' font-size="6.80" fill="#333">70 nm</text>
<line x1="183.2" y1="136.4" x2="189.6" y2="136.4" stroke="#2a3cf0" stroke-width="1.1"/>
<text x="193.3" y="138.8" font-family='"Liberation Sans", Arial, sans-serif' font-size="6.80" fill="#333">80 nm</text>
<line x1="183.2" y1="143.0" x2="189.6" y2="143.0" stroke="#f03030" stroke-width="1.1"/>
<text x="193.3" y="145.4" font-family='"Liberation Sans", Arial, sans-serif' font-size="6.80" fill="#333">90 nm</text>
<line x1="183.2" y1="149.7" x2="189.6" y2="149.7" stroke="#222" stroke-width="1.1"/>
<text x="193.3" y="152.1" font-family='"Liberation Sans", Arial, sans-serif' font-size="6.80" fill="#333">100 nm</text>
<text x="182.2" y="194.5" font-family='"Liberation Sans", Arial, sans-serif' font-size="8.40" fill="#222" font-weight="bold" textLength="30.2" lengthAdjust="spacingAndGlyphs" transform="rotate(-90 182.2 194.5)">4 x 10<tspan font-size="4.6" dy="-3.6">-14</tspan></text>
<text x="208.6" y="194.5" font-family='"Liberation Sans", Arial, sans-serif' font-size="8.40" fill="#222" font-weight="bold" textLength="30.2" lengthAdjust="spacingAndGlyphs" transform="rotate(-90 208.6 194.5)">3 x 10<tspan font-size="4.6" dy="-3.6">-14</tspan></text>
<text x="233.4" y="194.5" font-family='"Liberation Sans", Arial, sans-serif' font-size="8.40" fill="#222" font-weight="bold" textLength="30.2" lengthAdjust="spacingAndGlyphs" transform="rotate(-90 233.4 194.5)">2 x 10<tspan font-size="4.6" dy="-3.6">-14</tspan></text>
<text x="261.0" y="194.5" font-family='"Liberation Sans", Arial, sans-serif' font-size="8.40" fill="#222" font-weight="bold" textLength="30.2" lengthAdjust="spacingAndGlyphs" transform="rotate(-90 261.0 194.5)">1 x 10<tspan font-size="4.6" dy="-3.6">-14</tspan></text>
<text x="182.7" y="209.2" font-family='"Liberation Sans", Arial, sans-serif' font-size="8.00" fill="#444" textLength="100.8" lengthAdjust="spacingAndGlyphs">Scattering Cross Section (m<tspan font-size="5" dy="-3">2</tspan><tspan dy="3">)</tspan></text>
<text x="229.4" y="234.8" font-family='"Liberation Serif", "Times New Roman", serif' font-size="14.00" fill="#111" textLength="15.8" lengthAdjust="spacingAndGlyphs">(<tspan font-weight="bold">b</tspan>)</text>
<text x="364.8" y="20.0" font-family='"DejaVu Sans Condensed", "DejaVu Sans", sans-serif' font-size="11.90" fill="#000" textLength="150.6" lengthAdjust="spacingAndGlyphs" stroke="#000" stroke-width="0.2">Band-structure of multilayer</text>
<text x="364.8" y="34.0" font-family='"DejaVu Sans Condensed", "DejaVu Sans", sans-serif' font-size="11.90" fill="#000" textLength="173.1" lengthAdjust="spacingAndGlyphs" stroke="#000" stroke-width="0.2">with indirect bandgap at K point</text>
<g fill="none" stroke="#f01818" stroke-width="1.3">
<path d="M361.2,52.2 C362.4,53.2 366.1,56.4 368.4,58.4 C370.7,60.4 373.1,62.2 375.2,64.0 C377.2,65.8 379.0,67.7 380.7,69.0 C382.4,70.3 382.9,70.9 385.2,71.8 C387.4,72.7 390.8,73.8 394.2,74.6 C397.6,75.4 402.0,76.4 405.4,76.9 C408.8,77.4 410.6,77.8 414.3,77.8 C418.0,77.8 423.7,77.5 427.4,76.9 C431.1,76.3 433.5,75.1 436.3,74.0 C439.1,72.9 441.9,71.2 444.2,70.1 C446.4,69.0 447.9,68.1 449.8,67.4 C451.7,66.7 454.6,66.0 455.6,65.7"/>
<path d="M356.3,65.4 C357.9,65.2 362.7,64.3 366.2,64.0 C369.7,63.7 374.4,63.4 377.4,63.4 C380.4,63.4 381.7,63.7 384.1,64.3 C386.5,64.9 389.4,65.7 392.0,66.8 C394.6,67.9 397.2,69.4 399.8,70.7 C402.4,72.0 405.2,73.5 407.6,74.6 C410.0,75.7 411.0,77.6 414.3,77.4 C417.6,77.2 423.3,75.1 427.4,73.5 C431.4,71.9 435.2,69.4 438.6,67.9 C442.0,66.4 444.7,65.3 447.5,64.6 C450.3,63.8 453.0,63.4 455.6,63.4 C458.2,63.4 461.0,63.9 463.2,64.3 C465.4,64.7 466.6,64.9 468.8,65.7 C471.0,66.5 473.8,67.7 476.6,69.0 C479.4,70.3 482.6,72.0 485.6,73.5 C488.6,75.0 491.7,76.6 494.5,77.8 C497.3,79.0 499.6,80.1 502.4,80.9 C505.2,81.7 507.8,82.4 511.3,82.8 C514.8,83.2 518.8,83.4 523.5,83.4 C528.2,83.4 537.0,82.7 539.7,82.6"/>
<path d="M356.3,95.7 C357.9,94.8 362.9,92.0 366.2,90.3 C369.5,88.6 373.5,86.6 376.3,85.8 C379.1,85.0 380.8,84.9 383.0,85.3 C385.2,85.7 387.3,87.0 389.7,88.1 C392.1,89.2 395.1,91.2 397.5,92.0 C399.9,92.8 402.1,93.0 404.3,92.8 C406.6,92.6 409.0,91.6 411.0,90.9 C413.0,90.2 413.5,90.0 416.2,88.6 C418.9,87.2 424.2,84.7 427.4,82.5 C430.6,80.3 432.8,77.9 435.2,75.7 C437.6,73.5 440.1,71.2 442.0,69.6 C443.9,68.0 444.7,67.1 446.4,66.2 C448.1,65.3 450.1,64.6 452.0,64.3 C453.9,64.0 456.1,64.1 458.0,64.5 C459.9,64.9 461.4,66.7 463.2,66.8 C465.0,66.9 466.9,65.9 468.8,65.1 C470.7,64.3 472.3,63.1 474.4,61.8 C476.4,60.5 479.1,58.9 481.1,57.3 C483.2,55.7 485.8,53.1 486.7,52.3"/>
<path d="M426.8,52.2 C428.0,53.2 431.6,56.3 434.1,58.4 C436.6,60.5 439.8,63.2 442.0,64.6 C444.2,66.0 445.8,66.1 447.5,66.8 C449.2,67.5 450.6,68.2 452.0,68.5 C453.4,68.8 453.7,68.6 455.6,68.6 C457.5,68.6 461.0,68.2 463.2,68.5 C465.4,68.8 466.9,69.8 468.8,70.7 C470.7,71.6 472.5,72.6 474.4,74.0 C476.3,75.4 478.1,77.5 480.0,79.1 C481.9,80.7 483.7,82.4 485.6,83.6 C487.5,84.8 489.0,85.5 491.2,86.0 C493.4,86.5 496.4,86.8 499.0,86.7 C501.6,86.6 504.6,85.8 506.8,85.2 C509.0,84.6 509.6,84.4 512.4,83.0 C515.2,81.6 519.8,78.7 523.5,76.8 C527.2,74.9 532.0,72.8 534.7,71.8 C537.4,70.8 538.9,71.1 539.7,71.0"/>
<path d="M462.0,65.5 C462.8,65.7 464.5,65.2 466.6,66.5 C468.7,67.8 472.2,72.1 474.4,73.5 C476.6,74.9 477.9,74.8 480.0,74.9 C482.1,75.0 485.0,74.2 486.7,74.0 C488.4,73.8 487.6,75.1 490.0,73.5 C492.4,71.9 497.8,67.2 501.2,64.5 C504.6,61.8 507.4,59.3 510.1,57.3 C512.8,55.3 516.2,53.1 517.4,52.3"/>
<path d="M356.3,139.4 C358.0,140.1 362.9,141.6 366.5,143.6 C370.1,145.6 374.1,149.0 377.9,151.2 C381.7,153.4 385.3,155.7 389.4,157.0 C393.5,158.3 398.6,159.4 402.7,159.2 C406.8,159.0 410.4,157.8 414.2,156.0 C418.0,154.2 421.8,150.5 425.6,148.4 C429.4,146.3 433.6,144.6 437.1,143.6 C440.6,142.6 443.5,142.6 446.6,142.3 C449.7,142.0 452.0,142.0 455.6,142.0 C459.2,142.0 464.1,141.7 468.1,142.4 C472.1,143.2 475.7,144.6 479.5,146.5 C483.3,148.4 487.4,151.4 491.0,153.8 C494.6,156.2 497.5,159.5 500.8,161.2 C504.1,162.9 507.3,163.8 510.6,164.1 C513.9,164.4 517.2,163.9 520.5,163.1 C523.8,162.3 527.1,160.4 530.3,159.2 C533.5,158.0 538.1,156.5 539.7,156.0"/>
<path d="M364.5,189.4 C366.7,187.7 373.1,182.4 377.9,178.9 C382.7,175.4 388.4,171.1 393.2,168.4 C398.0,165.7 402.1,164.0 406.5,162.7 C410.9,161.4 415.8,160.8 419.9,160.8 C424.0,160.8 427.6,161.4 431.4,162.7 C435.2,164.0 438.8,166.5 442.8,168.4 C446.8,170.3 451.7,174.1 455.6,174.1 C459.6,174.1 462.5,170.1 466.5,168.5 C470.5,166.9 476.2,165.1 479.5,164.5 C482.8,163.9 483.4,164.0 486.1,164.8 C488.8,165.6 492.6,167.7 495.9,169.4 C499.2,171.1 502.1,173.2 505.7,175.1 C509.2,177.0 513.4,179.2 517.2,180.8 C521.0,182.4 524.9,183.6 528.6,184.4 C532.4,185.2 537.9,185.5 539.7,185.7"/>
<path d="M429.5,189.4 C430.8,188.1 434.2,184.0 437.1,181.8 C440.0,179.6 443.5,177.3 446.6,176.0 C449.7,174.7 452.6,174.0 455.6,174.1 C458.6,174.2 461.6,175.3 464.8,176.7 C468.0,178.1 471.1,180.4 474.6,182.5 C478.2,184.6 484.2,188.2 486.1,189.4"/>
<path d="M486.9,189.4 C488.4,188.2 492.8,184.9 495.9,182.5 C499.0,180.1 502.1,177.6 505.7,175.1 C509.2,172.6 513.4,169.8 517.2,167.7 C521.0,165.6 524.9,164.0 528.6,162.8 C532.4,161.6 537.9,160.8 539.7,160.4"/>
<path d="M400.8,189.4 C401.8,188.9 404.6,187.1 406.5,186.5 C408.4,185.9 410.4,185.4 412.3,185.6 C414.2,185.8 416.4,186.9 418.0,187.5 C419.6,188.1 421.2,189.1 421.8,189.4"/>
<path d="M446.6,189.4 C448.1,188.5 452.8,184.2 455.6,184.2 C458.4,184.2 462.2,188.5 463.5,189.4"/>
</g>
<line x1="357" y1="95.6" x2="539" y2="95.6" stroke="#f01818" stroke-width="1.2" stroke-dasharray="3.6 2.3"/>
<line x1="357" y1="139.8" x2="539" y2="139.8" stroke="#f01818" stroke-width="1.2" stroke-dasharray="3.6 2.3"/>
<line x1="455.4" y1="52.2" x2="455.4" y2="189.4" stroke="#333" stroke-width="0.9"/>
<rect x="356.5" y="52.3" width="183.2" height="137.0" fill="none" stroke="#000" stroke-width="1.8"/>
<line x1="356.4" y1="64.5" x2="359.5" y2="64.5" stroke="#000" stroke-width="1.4"/>
<text x="353.5" y="69.4" font-family='"Liberation Sans", Arial, sans-serif' font-size="13.80" fill="#000" text-anchor="end">3</text>
<line x1="356.4" y1="89.6" x2="359.5" y2="89.6" stroke="#000" stroke-width="1.4"/>
<text x="353.5" y="94.5" font-family='"Liberation Sans", Arial, sans-serif' font-size="13.80" fill="#000" text-anchor="end">2</text>
<line x1="356.4" y1="114.7" x2="359.5" y2="114.7" stroke="#000" stroke-width="1.4"/>
<text x="353.5" y="119.6" font-family='"Liberation Sans", Arial, sans-serif' font-size="13.80" fill="#000" text-anchor="end">1</text>
<line x1="356.4" y1="139.8" x2="359.5" y2="139.8" stroke="#000" stroke-width="1.4"/>
<text x="353.5" y="144.7" font-family='"Liberation Sans", Arial, sans-serif' font-size="13.80" fill="#000" text-anchor="end">0</text>
<line x1="356.4" y1="164.9" x2="359.5" y2="164.9" stroke="#000" stroke-width="1.4"/>
<text x="353.5" y="169.8" font-family='"Liberation Sans", Arial, sans-serif' font-size="13.80" fill="#000" text-anchor="end">-1</text>
<line x1="356.4" y1="190.0" x2="359.5" y2="190.0" stroke="#000" stroke-width="1.4"/>
<text x="353.5" y="194.9" font-family='"Liberation Sans", Arial, sans-serif' font-size="13.80" fill="#000" text-anchor="end">-2</text>
<text x="333.6" y="125.9" font-family='"Liberation Sans", Arial, sans-serif' font-size="14.80" fill="#000" font-weight="bold" textLength="73.8" lengthAdjust="spacingAndGlyphs" text-anchor="middle" transform="rotate(-90 333.6 125.9)">Energy(eV)</text>
<g stroke="#5566dd" stroke-width="1.1" fill="none"><line x1="448.7" y1="67.5" x2="448.7" y2="143.5"/><polyline points="445.7,71.5 448.7,67.2 451.7,71.5"/><polyline points="445.7,139.5 448.7,143.8 451.7,139.5"/></g>
<line x1="465.2" y1="99" x2="465.2" y2="137" stroke="#f01818" stroke-width="1.3"/>
<polygon points="462.7,101.6 465.2,96.8 467.7,101.6" fill="#f01818"/>
<polygon points="462.7,134.6 465.2,139.4 467.7,134.6" fill="#f01818"/>
<text x="396.4" y="109.8" font-family='"DejaVu Serif Condensed", "DejaVu Serif", serif' font-size="7.90" fill="#4455d4" font-weight="bold" textLength="43.6" lengthAdjust="spacingAndGlyphs" stroke="#4455d4" stroke-width="0.15">Ec = 3.01 eV</text>
<text x="398.7" y="120.1" font-family='"DejaVu Serif Condensed", "DejaVu Serif", serif' font-size="7.90" fill="#4455d4" font-weight="bold" textLength="34.2" lengthAdjust="spacingAndGlyphs" stroke="#4455d4" stroke-width="0.15">(412 nm)</text>
<text x="476.3" y="118.9" font-family='"Liberation Sans", Arial, sans-serif' font-size="9.70" fill="#f01818" font-weight="bold" textLength="53.6" lengthAdjust="spacingAndGlyphs" stroke="#f01818" stroke-width="0.25">E<tspan font-size="9.6" dy="3.6">g</tspan><tspan dy="-3.6">=1.77 eV</tspan></text>
<text x="495.5" y="131.2" font-family='"DejaVu Serif Condensed", "DejaVu Serif", serif' font-size="7.00" fill="#555" font-weight="bold" textLength="30.2" lengthAdjust="spacingAndGlyphs" stroke="#555" stroke-width="0.15">(700 nm)</text>
<text x="354.3" y="207.8" font-family='"Liberation Serif", "Times New Roman", serif' font-size="13.60" fill="#111" font-weight="bold" textLength="9.3" lengthAdjust="spacingAndGlyphs">K</text>
<text x="453.0" y="207.8" font-family='"Liberation Serif", "Times New Roman", serif' font-size="13.60" fill="#111" font-weight="bold" textLength="8.4" lengthAdjust="spacingAndGlyphs">Γ</text>
<text x="533.5" y="205.1" font-family='"Liberation Serif", "Times New Roman", serif' font-size="12.40" fill="#111" font-weight="bold" textLength="11.0" lengthAdjust="spacingAndGlyphs">M</text>
<text x="434.1" y="234.8" font-family='"Liberation Serif", "Times New Roman", serif' font-size="14.00" fill="#111" textLength="13.6" lengthAdjust="spacingAndGlyphs">(<tspan font-weight="bold">c</tspan>)</text>
<rect x="47.4" y="247.7" width="24.8" height="140.6" fill="#fde7d6"/>
<rect x="72.2" y="247.7" width="125.2" height="140.6" fill="#d6e4f1"/>
<rect x="47.4" y="247.7" width="150" height="140.6" fill="none" stroke="#8a8a8a" stroke-width="0.9"/>
<line x1="47.4" y1="388.3" x2="47.4" y2="386.6" stroke="#777" stroke-width="0.7"/>
<line x1="47.4" y1="247.7" x2="47.4" y2="249.4" stroke="#777" stroke-width="0.7"/>
<line x1="72.4" y1="388.3" x2="72.4" y2="386.6" stroke="#777" stroke-width="0.7"/>
<line x1="72.4" y1="247.7" x2="72.4" y2="249.4" stroke="#777" stroke-width="0.7"/>
<line x1="97.5" y1="388.3" x2="97.5" y2="386.6" stroke="#777" stroke-width="0.7"/>
<line x1="97.5" y1="247.7" x2="97.5" y2="249.4" stroke="#777" stroke-width="0.7"/>
<line x1="122.5" y1="388.3" x2="122.5" y2="386.6" stroke="#777" stroke-width="0.7"/>
<line x1="122.5" y1="247.7" x2="122.5" y2="249.4" stroke="#777" stroke-width="0.7"/>
<line x1="147.6" y1="388.3" x2="147.6" y2="386.6" stroke="#777" stroke-width="0.7"/>
<line x1="147.6" y1="247.7" x2="147.6" y2="249.4" stroke="#777" stroke-width="0.7"/>
<line x1="172.6" y1="388.3" x2="172.6" y2="386.6" stroke="#777" stroke-width="0.7"/>
<line x1="172.6" y1="247.7" x2="172.6" y2="249.4" stroke="#777" stroke-width="0.7"/>
<line x1="197.4" y1="388.3" x2="197.4" y2="386.6" stroke="#777" stroke-width="0.7"/>
<line x1="197.4" y1="247.7" x2="197.4" y2="249.4" stroke="#777" stroke-width="0.7"/>
<rect x="279" y="189.2" width="1" height="1" fill="#999"/>
<rect x="33.8" y="340.6" width="1.2" height="1.2" fill="#888"/>
<rect x="33.8" y="387.3" width="1.2" height="1.2" fill="#888"/>
<line x1="197.4" y1="297.2" x2="195.8" y2="297.2" stroke="#777" stroke-width="0.7"/>
<line x1="197.4" y1="341.6" x2="195.8" y2="341.6" stroke="#777" stroke-width="0.7"/>
<line x1="47.4" y1="294.8" x2="197.4" y2="294.8" stroke="#f58a28" stroke-width="1.5" stroke-dasharray="6.8 2.9 1.7 3.1"/>
<line x1="47.6" y1="374.0" x2="197.4" y2="374.0" stroke="#f58a28" stroke-width="1.5" stroke-dasharray="6.5 3.9"/>
<path d="M47.4,263.6 L72.2,263.6 L72.2,259.6 L72.3,259.8 L74.4,261.1 L76.5,262.3 L78.6,263.4 L80.6,264.6 L82.7,265.7 L84.8,266.8 L86.9,267.9 L89.0,268.9 L91.1,270.0 L93.2,271.0 L95.2,272.0 L97.3,273.0 L99.4,273.9 L101.5,274.8 L103.6,275.7 L105.7,276.6 L107.7,277.5 L109.8,278.3 L111.9,279.1 L114.0,279.9 L116.1,280.7 L118.2,281.5 L120.3,282.2 L122.3,282.9 L124.4,283.6 L126.5,284.2 L128.6,284.9 L130.7,285.5 L132.8,286.1 L134.8,286.6 L136.9,287.2 L139.0,287.7 L141.1,288.2 L143.2,288.7 L145.3,289.2 L147.4,289.6 L149.4,290.0 L151.5,290.4 L153.6,290.8 L155.7,291.1 L157.8,291.5 L159.9,291.8 L162.0,292.0 L164.0,292.3 L166.1,292.5 L168.2,292.8 L170.3,293.0 L172.4,293.1 L174.5,293.3 L176.6,293.4 L178.6,293.5 L180.7,293.6 L182.8,293.6 L184.9,293.7 L187.0,293.7 L189.1,293.7 L191.1,293.7 L193.2,293.7 L195.3,293.7 L197.4,293.7" fill="none" stroke="#128585" stroke-width="2"/>
<path d="M47.4,285.8 L71.6,285.8 Q72.4,285.8 72.4,287 L72.4,339.5 L72.3,339.4 L74.4,340.7 L76.5,341.9 L78.6,343.1 L80.6,344.3 L82.7,345.4 L84.8,346.5 L86.9,347.6 L89.0,348.7 L91.1,349.8 L93.2,350.8 L95.2,351.8 L97.3,352.8 L99.4,353.8 L101.5,354.7 L103.6,355.7 L105.7,356.6 L107.7,357.4 L109.8,358.3 L111.9,359.1 L114.0,359.9 L116.1,360.7 L118.2,361.5 L120.3,362.2 L122.3,363.0 L124.4,363.7 L126.5,364.3 L128.6,365.0 L130.7,365.6 L132.8,366.2 L134.8,366.8 L136.9,367.4 L139.0,367.9 L141.1,368.4 L143.2,368.9 L145.3,369.4 L147.4,369.8 L149.4,370.2 L151.5,370.6 L153.6,371.0 L155.7,371.4 L157.8,371.7 L159.9,372.0 L162.0,372.3 L164.0,372.6 L166.1,372.8 L168.2,373.0 L170.3,373.2 L172.4,373.4 L174.5,373.6 L176.6,373.7 L178.6,373.8 L180.7,373.9 L182.8,373.9 L184.9,374.0 L187.0,374.0 L189.1,374.0 L191.1,374.0 L193.2,374.0 L195.3,374.0 L197.4,374.0" fill="none" stroke="#128585" stroke-width="2"/>
<line x1="50.4" y1="266" x2="50.4" y2="283.5" stroke="#000" stroke-width="1.2"/>
<polygon points="48.0,269.2 50.4,265.2 52.8,269.2" fill="#000"/>
<polygon points="48.0,281.2 50.4,285.2 52.8,281.2" fill="#000"/>
<text x="53.0" y="279.3" font-family='"Liberation Sans", Arial, sans-serif' font-size="13.40" fill="#111" textLength="18.0" lengthAdjust="spacingAndGlyphs" stroke="#111" stroke-width="0.2">E<tspan font-size="8.4" dy="2.1" stroke-width="0.05">G1</tspan></text>
<line x1="140.3" y1="291" x2="140.3" y2="318" stroke="#000" stroke-width="0.8"/>
<line x1="140.3" y1="337" x2="140.3" y2="365" stroke="#000" stroke-width="0.9"/>
<polygon points="138.3,292.2 140.3,288.5 142.3,292.2" fill="#000"/>
<polygon points="138.3,363.6 140.3,367.3 142.3,363.6" fill="#000"/>
<text x="130.5" y="331.9" font-family='"Liberation Sans", Arial, sans-serif' font-size="14.40" fill="#111" textLength="19.0" lengthAdjust="spacingAndGlyphs" stroke="#111" stroke-width="0.2">E<tspan font-size="9.0" dy="3.0" stroke-width="0.05">G2</tspan></text>
<text x="179.5" y="284.2" font-family='"Liberation Sans", Arial, sans-serif' font-size="14.30" fill="#111" textLength="14.3" lengthAdjust="spacingAndGlyphs" stroke="#111" stroke-width="0.2">E<tspan font-size="8.6" dy="5.3" stroke-width="0.05">C</tspan></text>
<text x="179.3" y="364.6" font-family='"Liberation Sans", Arial, sans-serif' font-size="14.30" fill="#111" textLength="13.6" lengthAdjust="spacingAndGlyphs" stroke="#111" stroke-width="0.2">E<tspan font-size="8.4" dy="4.9" stroke-width="0.05">V</tspan></text>
<text x="49.4" y="382.8" font-family='"Liberation Sans", Arial, sans-serif' font-size="11.50" fill="#333" textLength="21.2" lengthAdjust="spacingAndGlyphs">MoS<tspan font-size="8.5" dy="2.2">2</tspan></text>
<text x="124.1" y="382.6" font-family='"Liberation Sans", Arial, sans-serif' font-size="11.00" fill="#222" textLength="18.3" lengthAdjust="spacingAndGlyphs">GaN</text>
<text x="43.6" y="298.4" font-family='"Liberation Serif", "Times New Roman", serif' font-size="10.50" fill="#111" font-weight="bold" textLength="14.6" lengthAdjust="spacingAndGlyphs" text-anchor="end" stroke="#111" stroke-width="0.3">3.4</text>
<text x="44.2" y="378.6" font-family='"Liberation Serif", "Times New Roman", serif' font-size="11.00" fill="#111" font-weight="bold" text-anchor="end" stroke="#111" stroke-width="0.3">0</text>
<text x="46.8" y="402.6" font-family='"Liberation Sans", Arial, sans-serif' font-size="13.60" fill="#111" text-anchor="middle" stroke="#111" stroke-width="0.15">0</text>
<text x="97.3" y="402.6" font-family='"Liberation Sans", Arial, sans-serif' font-size="13.60" fill="#111" text-anchor="middle" stroke="#111" stroke-width="0.15">20</text>
<text x="147.6" y="402.6" font-family='"Liberation Sans", Arial, sans-serif' font-size="13.60" fill="#111" text-anchor="middle" stroke="#111" stroke-width="0.15">40</text>
<text x="197.1" y="402.6" font-family='"Liberation Sans", Arial, sans-serif' font-size="13.60" fill="#111" text-anchor="middle" stroke="#111" stroke-width="0.15">60</text>
<text x="88.4" y="417.5" font-family='"Liberation Sans", Arial, sans-serif' font-size="12.60" fill="#222" textLength="67.2" lengthAdjust="spacingAndGlyphs">Depth (nm)</text>
<text x="23.9" y="316.6" font-family='"Liberation Sans", Arial, sans-serif' font-size="13.20" fill="#222" textLength="72.7" lengthAdjust="spacingAndGlyphs" text-anchor="middle" transform="rotate(-90 23.9 316.6)">Energy (eV)</text>
<text x="64.9" y="439.0" font-family='"Liberation Serif", "Times New Roman", serif' font-size="14.00" fill="#111" textLength="15.3" lengthAdjust="spacingAndGlyphs">(<tspan font-weight="bold">d</tspan>)</text>
<rect x="262.5" y="271.7" width="194.1" height="133.3" fill="none" stroke="#000" stroke-width="1.8"/>
<rect x="266.3" y="274.8" width="33.9" height="17.1" fill="none" stroke="#000" stroke-width="1.1"/>
<rect x="391.9" y="275.2" width="31.4" height="17" fill="none" stroke="#000" stroke-width="1.1"/>
<text x="269.6" y="285.8" font-family='"Liberation Sans", Arial, sans-serif' font-size="10.80" fill="#000" font-weight="bold" textLength="28.4" lengthAdjust="spacingAndGlyphs">MoS<tspan font-size="8.6" dy="2.6">2</tspan></text>
<text x="394.5" y="286.1" font-family='"Liberation Sans", Arial, sans-serif' font-size="10.60" fill="#000" font-weight="bold" textLength="23.6" lengthAdjust="spacingAndGlyphs">GaN</text>
<rect x="264.4" y="316.4" width="82" height="3.4" fill="#ff1010"/>
<rect x="264.4" y="363.9" width="82.6" height="3.2" fill="#ff1010"/>
<rect x="351.9" y="330.7" width="79.3" height="3.2" fill="#1ab0f0"/>
<rect x="348.7" y="388.8" width="82.5" height="3.2" fill="#1ab0f0"/>
<rect x="352.9" y="341.6" width="2.7" height="2.7" fill="#000"/>
<rect x="358.6" y="341.6" width="2.7" height="2.7" fill="#000"/>
<rect x="364.3" y="341.6" width="2.7" height="2.7" fill="#000"/>
<rect x="370.0" y="341.6" width="2.7" height="2.7" fill="#000"/>
<rect x="375.7" y="341.6" width="2.7" height="2.7" fill="#000"/>
<rect x="381.4" y="341.6" width="2.7" height="2.7" fill="#000"/>
<rect x="387.1" y="341.6" width="2.7" height="2.7" fill="#000"/>
<rect x="392.8" y="341.6" width="2.7" height="2.7" fill="#000"/>
<rect x="398.5" y="341.6" width="2.7" height="2.7" fill="#000"/>
<rect x="404.2" y="341.6" width="2.7" height="2.7" fill="#000"/>
<rect x="409.9" y="341.6" width="2.7" height="2.7" fill="#000"/>
<rect x="415.6" y="341.6" width="2.7" height="2.7" fill="#000"/>
<rect x="421.3" y="341.6" width="2.7" height="2.7" fill="#000"/>
<rect x="427.0" y="341.6" width="2.7" height="2.7" fill="#000"/>
<line x1="266" y1="319.5" x2="266" y2="359" stroke="#000" stroke-width="1.4"/>
<polygon points="264.2,358.5 266,363 267.8,358.5" fill="#000"/>
<line x1="426.2" y1="333.5" x2="426.2" y2="384" stroke="#000" stroke-width="1.4"/>
<polygon points="424.4,383.5 426.2,388.4 428,383.5" fill="#000"/>
<text x="268.5" y="343.1" font-family='"Liberation Serif", "Times New Roman", serif' font-size="12.40" fill="#111" font-weight="bold" textLength="15.3" lengthAdjust="spacingAndGlyphs" stroke="#111" stroke-width="0.3">E<tspan font-size="8" dy="2.4">g1</tspan></text>
<text x="407.7" y="363.8" font-family='"Liberation Serif", "Times New Roman", serif' font-size="12.40" fill="#111" font-weight="bold" textLength="16.0" lengthAdjust="spacingAndGlyphs" stroke="#111" stroke-width="0.3">E<tspan font-size="8" dy="2.6">g2</tspan></text>
<text x="267.2" y="315.2" font-family='"Liberation Sans", Arial, sans-serif' font-size="10.80" fill="#000" font-weight="bold" textLength="7.2" lengthAdjust="spacingAndGlyphs" stroke="#000" stroke-width="0.35">e</text>
<text x="301.1" y="313.0" font-family='"Liberation Sans", Arial, sans-serif' font-size="10.80" fill="#000" font-weight="bold" textLength="7.2" lengthAdjust="spacingAndGlyphs" stroke="#000" stroke-width="0.35">e</text>
<text x="368.4" y="328.7" font-family='"Liberation Sans", Arial, sans-serif' font-size="10.80" fill="#000" font-weight="bold" textLength="7.2" lengthAdjust="spacingAndGlyphs" stroke="#000" stroke-width="0.35">e</text>
<text x="411.9" y="328.0" font-family='"Liberation Sans", Arial, sans-serif' font-size="10.80" fill="#000" font-weight="bold" textLength="7.2" lengthAdjust="spacingAndGlyphs" stroke="#000" stroke-width="0.35">e</text>
<text x="354.2" y="340.4" font-family='"Liberation Sans", Arial, sans-serif' font-size="10.80" fill="#000" font-weight="bold" textLength="7.2" lengthAdjust="spacingAndGlyphs" stroke="#000" stroke-width="0.35">e</text>
<text x="404.7" y="340.6" font-family='"Liberation Sans", Arial, sans-serif' font-size="10.80" fill="#000" font-weight="bold" textLength="7.2" lengthAdjust="spacingAndGlyphs" stroke="#000" stroke-width="0.35">e</text>
<text x="283.7" y="375.7" font-family='"Liberation Sans", Arial, sans-serif' font-size="9.60" fill="#000" font-weight="bold" textLength="5.9" lengthAdjust="spacingAndGlyphs" stroke="#000" stroke-width="0.3">h</text>
<text x="302.9" y="375.7" font-family='"Liberation Sans", Arial, sans-serif' font-size="9.60" fill="#000" font-weight="bold" textLength="5.9" lengthAdjust="spacingAndGlyphs" stroke="#000" stroke-width="0.3">h</text>
<text x="328.4" y="375.7" font-family='"Liberation Sans", Arial, sans-serif' font-size="9.60" fill="#000" font-weight="bold" textLength="5.9" lengthAdjust="spacingAndGlyphs" stroke="#000" stroke-width="0.3">h</text>
<text x="370.3" y="400.9" font-family='"Liberation Sans", Arial, sans-serif' font-size="9.60" fill="#000" font-weight="bold" textLength="5.9" lengthAdjust="spacingAndGlyphs" stroke="#000" stroke-width="0.3">h</text>
<text x="396.2" y="402.3" font-family='"Liberation Sans", Arial, sans-serif' font-size="9.60" fill="#000" font-weight="bold" textLength="5.9" lengthAdjust="spacingAndGlyphs" stroke="#000" stroke-width="0.3">h</text>
<text x="419.0" y="400.9" font-family='"Liberation Sans", Arial, sans-serif' font-size="9.60" fill="#000" font-weight="bold" textLength="5.9" lengthAdjust="spacingAndGlyphs" stroke="#000" stroke-width="0.3">h</text>
<rect x="435.4" y="334.6" width="3.9" height="1.9" fill="#e2561a"/>
<rect x="441.5" y="334.6" width="3.9" height="1.9" fill="#e2561a"/>
<rect x="448.3" y="334.6" width="3.9" height="1.9" fill="#e2561a"/>
<rect x="435.4" y="339.4" width="3.9" height="1.9" fill="#e2561a"/>
<rect x="441.5" y="339.4" width="3.9" height="1.9" fill="#e2561a"/>
<rect x="448.3" y="339.4" width="3.9" height="1.9" fill="#e2561a"/>
<rect x="435.4" y="343.8" width="3.9" height="1.9" fill="#e2561a"/>
<rect x="441.5" y="343.8" width="3.9" height="1.9" fill="#e2561a"/>
<rect x="448.3" y="343.8" width="3.9" height="1.9" fill="#e2561a"/>
<text x="433.9" y="359.5" font-family='"Liberation Serif", "Times New Roman", serif' font-size="10.30" fill="#111" font-weight="bold" textLength="20.7" lengthAdjust="spacingAndGlyphs">LSP</text>
<text x="437.3" y="374.3" font-family='"Liberation Serif", "Times New Roman", serif' font-size="10.30" fill="#1e1a2a" font-weight="bold" textLength="10.5" lengthAdjust="spacingAndGlyphs">Pt</text>
<text x="395.7" y="439.1" font-family='"Liberation Serif", "Times New Roman", serif' font-size="14.00" fill="#111" textLength="14.4" lengthAdjust="spacingAndGlyphs">(<tspan font-weight="bold">e</tspan>)</text>
<defs><linearGradient id="g1" x1="0" y1="0" x2="1" y2="0"><stop offset="0" stop-color="#0f8538"/><stop offset="1" stop-color="#28b450"/></linearGradient></defs>
<path d="M345.95,317.06 L346.03,316.67 L346.14,316.18 L346.25,315.64 L346.38,315.06 L346.52,314.44 L346.68,313.81 L346.85,313.17 L347.03,312.55 L347.22,311.96 L347.42,311.43 L347.61,310.97 L347.80,310.58 L348.04,310.23 L348.33,309.86 L348.63,309.50 L348.94,309.16 L349.28,308.83 L349.63,308.52 L350.00,308.22 L350.38,307.94 L350.77,307.68 L351.18,307.43 L351.60,307.21 L352.02,307.01 L352.45,306.85 L352.90,306.72 L353.39,306.61 L353.91,306.52 L354.45,306.44 L355.01,306.38 L355.58,306.34 L356.17,306.31 L356.77,306.29 L357.38,306.27 L357.99,306.26 L358.60,306.25 L359.19,306.25 L359.79,306.25 L360.38,306.26 L360.96,306.28 L361.55,306.30 L362.14,306.34 L362.73,306.39 L363.31,306.45 L363.90,306.53 L364.50,306.62 L365.09,306.73 L365.70,306.86 L366.31,307.02 L366.95,307.20 L367.59,307.40 L368.24,307.62 L368.90,307.85 L369.56,308.09 L370.22,308.35 L370.87,308.62 L371.52,308.90 L372.15,309.19 L372.78,309.49 L373.38,309.80 L373.97,310.13 L374.57,310.47 L375.16,310.83 L375.75,311.21 L376.33,311.60 L376.90,311.99 L377.46,312.40 L378.01,312.80 L378.55,313.22 L379.06,313.63 L379.56,314.04 L380.03,314.45 L380.47,314.84 L380.87,315.24 L381.26,315.65 L381.64,316.07 L382.00,316.49 L382.36,316.91 L382.71,317.35 L383.06,317.79 L383.41,318.24 L383.77,318.70 L384.14,319.16 L384.51,319.61 L384.89,320.07 L385.29,320.56 L385.69,321.07 L386.10,321.58 L386.51,322.10 L386.91,322.62 L387.29,323.11 L387.65,323.58 L387.98,324.01 L388.28,324.40 L388.53,324.74 L388.73,325.01 L391.67,322.59 L391.44,322.35 L391.17,322.04 L390.85,321.68 L390.49,321.26 L390.11,320.81 L389.69,320.33 L389.26,319.83 L388.82,319.33 L388.37,318.82 L387.93,318.32 L387.50,317.84 L387.09,317.39 L386.70,316.97 L386.32,316.55 L385.94,316.12 L385.56,315.69 L385.17,315.25 L384.77,314.81 L384.35,314.37 L383.92,313.92 L383.47,313.47 L382.99,313.03 L382.49,312.59 L381.97,312.15 L381.43,311.73 L380.88,311.31 L380.31,310.88 L379.72,310.46 L379.12,310.04 L378.50,309.63 L377.87,309.23 L377.23,308.84 L376.59,308.45 L375.93,308.09 L375.28,307.73 L374.62,307.40 L373.96,307.07 L373.28,306.76 L372.59,306.45 L371.90,306.16 L371.20,305.88 L370.49,305.61 L369.78,305.36 L369.07,305.12 L368.37,304.90 L367.67,304.69 L366.98,304.50 L366.30,304.34 L365.63,304.18 L364.96,304.05 L364.30,303.93 L363.64,303.84 L362.99,303.76 L362.35,303.70 L361.71,303.65 L361.08,303.61 L360.45,303.59 L359.83,303.57 L359.21,303.56 L358.60,303.55 L357.99,303.54 L357.37,303.52 L356.75,303.51 L356.11,303.51 L355.47,303.52 L354.82,303.54 L354.17,303.58 L353.52,303.64 L352.88,303.73 L352.24,303.85 L351.60,304.00 L350.98,304.19 L350.39,304.40 L349.81,304.63 L349.24,304.89 L348.69,305.18 L348.15,305.49 L347.62,305.83 L347.11,306.20 L346.61,306.59 L346.13,307.01 L345.67,307.45 L345.23,307.91 L344.80,308.42 L344.35,308.99 L343.93,309.64 L343.55,310.31 L343.20,311.00 L342.87,311.69 L342.57,312.38 L342.29,313.04 L342.03,313.66 L341.80,314.22 L341.59,314.70 L341.41,315.06 L341.25,315.34 Z" fill="url(#g1)"/>
<polygon points="386.9,322.9 397.4,326.2 392.9,330.4" fill="#28b450"/>
<path d="M313.74,320.13 L313.72,320.48 L313.66,320.92 L313.58,321.47 L313.47,322.11 L313.34,322.83 L313.22,323.59 L313.10,324.40 L312.99,325.24 L312.91,326.10 L312.86,326.97 L312.85,327.83 L312.90,328.67 L312.97,329.45 L313.06,330.22 L313.18,331.00 L313.32,331.79 L313.48,332.59 L313.67,333.39 L313.89,334.19 L314.14,334.98 L314.42,335.78 L314.74,336.56 L315.10,337.33 L315.49,338.08 L315.92,338.82 L316.38,339.55 L316.88,340.26 L317.42,340.97 L317.97,341.65 L318.56,342.32 L319.16,342.98 L319.77,343.61 L320.40,344.23 L321.04,344.82 L321.68,345.39 L322.32,345.94 L322.98,346.47 L323.65,347.00 L324.35,347.51 L325.07,348.01 L325.80,348.49 L326.54,348.94 L327.28,349.38 L328.03,349.78 L328.78,350.16 L329.53,350.51 L330.28,350.83 L331.02,351.11 L331.75,351.37 L332.49,351.59 L333.23,351.78 L333.96,351.93 L334.70,352.05 L335.42,352.15 L336.14,352.22 L336.85,352.26 L337.56,352.29 L338.25,352.29 L338.92,352.28 L339.60,352.25 L340.29,352.20 L340.98,352.12 L341.66,352.01 L342.32,351.87 L342.98,351.71 L343.61,351.54 L344.23,351.36 L344.84,351.16 L345.43,350.97 L345.99,350.77 L346.54,350.58 L347.08,350.39 L347.64,350.19 L348.22,349.95 L348.79,349.70 L349.34,349.44 L349.88,349.18 L350.40,348.92 L350.89,348.67 L351.34,348.44 L351.75,348.23 L352.11,348.04 L352.40,347.90 L352.64,347.79 L350.96,344.61 L350.70,344.77 L350.38,344.96 L350.03,345.18 L349.64,345.42 L349.22,345.67 L348.77,345.94 L348.31,346.21 L347.83,346.47 L347.35,346.73 L346.87,346.98 L346.40,347.20 L345.92,347.41 L345.42,347.61 L344.89,347.82 L344.36,348.03 L343.82,348.24 L343.27,348.43 L342.72,348.62 L342.17,348.80 L341.62,348.95 L341.06,349.09 L340.51,349.20 L339.96,349.29 L339.40,349.35 L338.82,349.39 L338.21,349.41 L337.59,349.41 L336.98,349.40 L336.35,349.37 L335.73,349.31 L335.10,349.24 L334.47,349.14 L333.85,349.02 L333.22,348.87 L332.60,348.69 L331.98,348.49 L331.36,348.23 L330.71,347.94 L330.06,347.61 L329.39,347.26 L328.72,346.88 L328.05,346.47 L327.39,346.04 L326.73,345.59 L326.09,345.13 L325.46,344.65 L324.86,344.16 L324.28,343.66 L323.71,343.14 L323.15,342.59 L322.58,342.03 L322.03,341.45 L321.50,340.85 L320.98,340.24 L320.49,339.62 L320.02,339.00 L319.59,338.37 L319.19,337.75 L318.83,337.13 L318.51,336.52 L318.24,335.90 L317.99,335.26 L317.78,334.61 L317.59,333.94 L317.42,333.26 L317.28,332.58 L317.16,331.89 L317.07,331.20 L317.00,330.51 L316.94,329.83 L316.91,329.16 L316.90,328.53 L316.93,327.93 L317.01,327.30 L317.12,326.63 L317.27,325.93 L317.44,325.22 L317.62,324.52 L317.81,323.84 L318.01,323.18 L318.20,322.57 L318.37,322.01 L318.53,321.49 L318.66,321.07 Z" fill="url(#g1)"/>
<polygon points="348.6,344.4 356.2,342.6 357.1,349.0" fill="#28b450"/>
<path d="M354.35,392.08 L354.11,392.32 L353.83,392.62 L353.55,392.94 L353.26,393.28 L352.94,393.62 L352.61,393.98 L352.26,394.34 L351.89,394.69 L351.52,395.02 L351.13,395.32 L350.74,395.60 L350.33,395.85 L349.86,396.11 L349.31,396.40 L348.74,396.68 L348.13,396.96 L347.49,397.24 L346.84,397.50 L346.17,397.75 L345.50,397.97 L344.83,398.18 L344.16,398.35 L343.51,398.50 L342.87,398.62 L342.21,398.69 L341.53,398.75 L340.84,398.79 L340.14,398.80 L339.43,398.80 L338.71,398.77 L338.00,398.72 L337.28,398.64 L336.58,398.55 L335.88,398.44 L335.19,398.31 L334.52,398.15 L333.86,397.97 L333.19,397.77 L332.53,397.54 L331.87,397.29 L331.21,397.03 L330.57,396.74 L329.93,396.43 L329.31,396.11 L328.71,395.77 L328.12,395.41 L327.56,395.03 L327.03,394.65 L326.52,394.23 L326.01,393.78 L325.52,393.31 L325.03,392.80 L324.55,392.28 L324.09,391.74 L323.65,391.18 L323.22,390.62 L322.82,390.05 L322.43,389.49 L322.08,388.93 L321.75,388.38 L321.45,387.85 L321.19,387.31 L320.94,386.76 L320.71,386.20 L320.50,385.62 L320.31,385.05 L320.14,384.47 L319.98,383.89 L319.83,383.31 L319.69,382.73 L319.57,382.16 L319.46,381.62 L319.37,381.11 L319.29,380.61 L319.24,380.09 L319.20,379.57 L319.17,379.04 L319.16,378.52 L319.15,378.01 L319.16,377.50 L319.16,377.01 L319.18,376.53 L319.19,376.07 L319.20,375.66 L319.20,375.30 L319.22,374.99 L319.24,374.68 L319.27,374.39 L319.31,374.11 L319.35,373.85 L319.39,373.60 L319.43,373.36 L319.47,373.13 L319.51,372.91 L319.55,372.69 L319.57,372.51 L316.03,371.89 L316.00,372.02 L315.96,372.16 L315.91,372.35 L315.85,372.58 L315.78,372.85 L315.71,373.15 L315.64,373.49 L315.58,373.85 L315.52,374.24 L315.47,374.66 L315.43,375.10 L315.40,375.54 L315.39,375.98 L315.38,376.43 L315.37,376.93 L315.36,377.45 L315.35,378.01 L315.36,378.59 L315.37,379.19 L315.40,379.81 L315.45,380.44 L315.52,381.09 L315.62,381.74 L315.74,382.38 L315.88,382.99 L316.03,383.61 L316.20,384.24 L316.38,384.89 L316.58,385.55 L316.80,386.22 L317.04,386.89 L317.31,387.56 L317.60,388.23 L317.92,388.91 L318.27,389.57 L318.65,390.22 L319.05,390.85 L319.48,391.48 L319.93,392.12 L320.40,392.75 L320.90,393.38 L321.42,394.00 L321.96,394.61 L322.53,395.20 L323.11,395.78 L323.71,396.33 L324.34,396.86 L324.97,397.35 L325.62,397.82 L326.29,398.27 L326.98,398.69 L327.68,399.09 L328.40,399.47 L329.13,399.82 L329.88,400.15 L330.63,400.46 L331.39,400.74 L332.15,401.00 L332.91,401.24 L333.68,401.45 L334.45,401.64 L335.24,401.81 L336.04,401.96 L336.84,402.08 L337.66,402.18 L338.48,402.26 L339.29,402.31 L340.11,402.34 L340.93,402.34 L341.74,402.31 L342.54,402.26 L343.33,402.18 L344.14,402.08 L344.95,401.93 L345.76,401.76 L346.56,401.55 L347.35,401.32 L348.12,401.08 L348.88,400.81 L349.61,400.53 L350.32,400.25 L351.00,399.95 L351.64,399.66 L352.27,399.35 L352.89,398.99 L353.50,398.59 L354.07,398.16 L354.59,397.73 L355.07,397.29 L355.52,396.87 L355.92,396.46 L356.29,396.09 L356.60,395.75 L356.87,395.48 L357.08,395.27 L357.25,395.12 Z" fill="#000"/>
<polygon points="314.0,370.6 318.8,367.8 321.9,374.6" fill="#000"/>
</svg>
</body></html>
